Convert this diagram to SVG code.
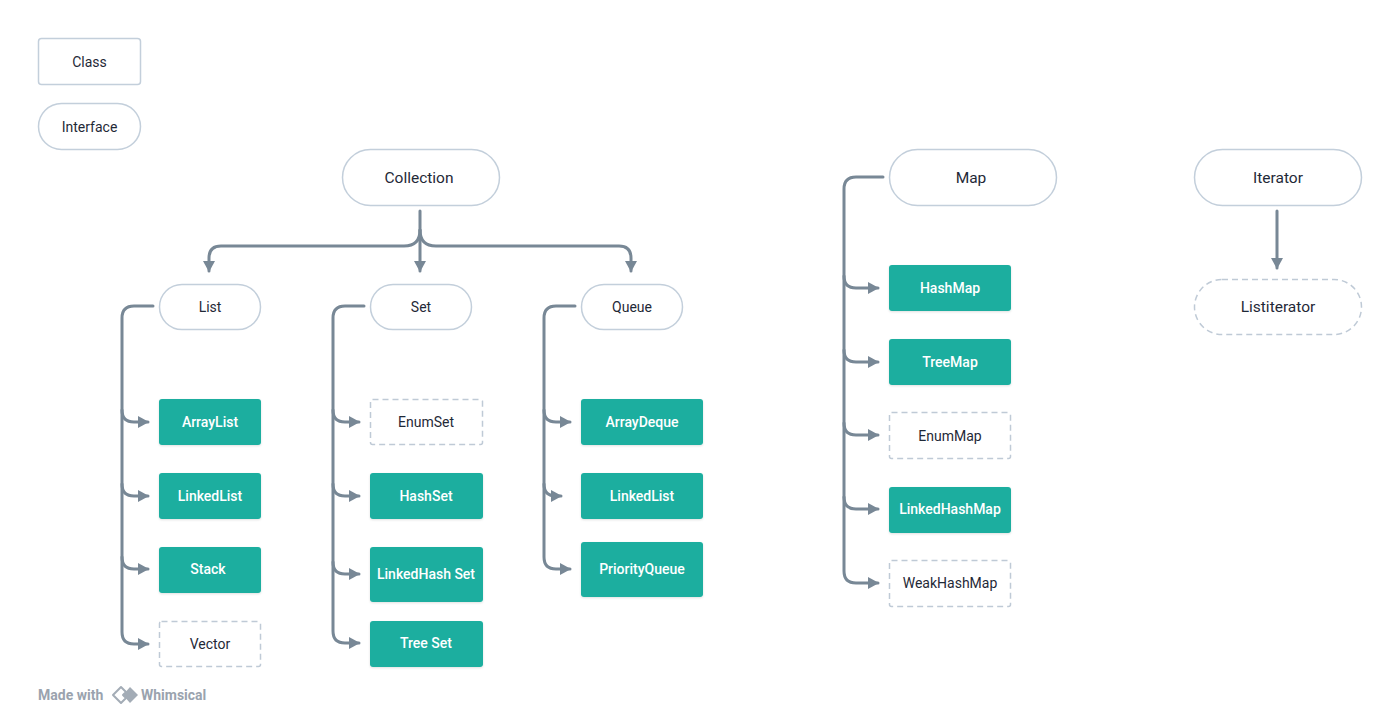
<svg xmlns="http://www.w3.org/2000/svg" width="1400" height="724" viewBox="0 0 1400 724">
<defs>
<style>
.bg{fill:#ffffff}
.pill{fill:#ffffff;stroke:#c3cfdb;stroke-width:1.5}
.cls{fill:#ffffff;stroke:#c3cfdb;stroke-width:1.5}
.dash{fill:#ffffff;stroke:#bfcad6;stroke-width:1.5;stroke-dasharray:6 4}
.teal{fill:#1aae9f}
.t{font-family:Roboto,"Noto Sans","Liberation Sans",sans-serif;font-size:14px;font-weight:400;fill:#1f2937;text-anchor:middle;dominant-baseline:central}
.tb{font-size:15.5px}
.tw{fill:#ffffff;font-weight:500}
.con{fill:none;stroke:#788896;stroke-width:3;stroke-linecap:round}
.wm{font-family:Roboto,"Noto Sans","Liberation Sans",sans-serif;font-size:14px;font-weight:700;fill:#9aa3ae}
</style>
<filter id="sh" x="-10%" y="-10%" width="120%" height="130%">
<feDropShadow dx="0" dy="1" stdDeviation="1" flood-color="#000" flood-opacity="0.12"/>
</filter>
<marker id="ah" markerUnits="userSpaceOnUse" markerWidth="14" markerHeight="14" viewBox="0 0 14 14" refX="11" refY="7" orient="auto">
<path d="M1,1 L12,7 L1,13 Z" fill="#788896"/>
</marker>
</defs>
<rect class="bg" x="0" y="0" width="1400" height="724"/>

<g id="legend-class"><rect class="cls" x="38.5" y="38.5" width="102" height="46" rx="3"/><text class="t" x="89.5" y="61.5">Class</text></g>
<g id="legend-interface"><rect class="pill" x="38.5" y="103.5" width="102" height="46" rx="23"/><text class="t" x="89.5" y="126.5">Interface</text></g>

<g id="connectors">
<path class="con" d="M420,211 V271" marker-end="url(#ah)"/>
<path class="con" d="M420,230 Q420,246 404,246 H221 Q209,246 209,258 V271" marker-end="url(#ah)"/>
<path class="con" d="M420,230 Q420,246 436,246 H619 Q631,246 631,258 V271" marker-end="url(#ah)"/>

<path class="con" d="M153,306 H134 Q122,306 122,318 V632 Q122,644 134,644 H148" marker-end="url(#ah)"/>
<path class="con" d="M122,410 Q122,422 134,422 H148" marker-end="url(#ah)"/>
<path class="con" d="M122,484 Q122,496 134,496 H148" marker-end="url(#ah)"/>
<path class="con" d="M122,557 Q122,569 134,569 H148" marker-end="url(#ah)"/>

<path class="con" d="M364,306 H345 Q333,306 333,318 V631 Q333,643 345,643 H359" marker-end="url(#ah)"/>
<path class="con" d="M333,410 Q333,422 345,422 H359" marker-end="url(#ah)"/>
<path class="con" d="M333,484 Q333,496 345,496 H359" marker-end="url(#ah)"/>
<path class="con" d="M333,562 Q333,574 345,574 H359" marker-end="url(#ah)"/>

<path class="con" d="M575,306 H556 Q544,306 544,318 V557 Q544,569 556,569 H570" marker-end="url(#ah)"/>
<path class="con" d="M544,410 Q544,422 556,422 H570" marker-end="url(#ah)"/>
<path class="con" d="M544,484 Q544,496 556,496 H561" marker-end="url(#ah)"/>

<path class="con" d="M883,177 H856 Q844,177 844,189 V571 Q844,583 856,583 H878" marker-end="url(#ah)"/>
<path class="con" d="M844,276 Q844,288 856,288 H878" marker-end="url(#ah)"/>
<path class="con" d="M844,350 Q844,362 856,362 H878" marker-end="url(#ah)"/>
<path class="con" d="M844,423 Q844,435 856,435 H878" marker-end="url(#ah)"/>
<path class="con" d="M844,497 Q844,509 856,509 H878" marker-end="url(#ah)"/>

<path class="con" d="M1277,211 V268" marker-end="url(#ah)"/>
</g>

<g id="collection"><rect class="pill" x="342.5" y="149.5" width="157" height="56" rx="28"/><text class="t tb" x="419" y="177.5">Collection</text></g>
<g id="list"><rect class="pill" x="159.5" y="284.5" width="101" height="45" rx="22.5"/><text class="t" x="210" y="306.5">List</text></g>
<g id="set"><rect class="pill" x="370.5" y="284.5" width="101" height="45" rx="22.5"/><text class="t" x="421" y="306.5">Set</text></g>
<g id="queue"><rect class="pill" x="581.5" y="284.5" width="101" height="45" rx="22.5"/><text class="t" x="632" y="306.5">Queue</text></g>

<g id="arraylist"><rect class="teal" filter="url(#sh)" x="159" y="399" width="102" height="46" rx="3"/><text class="t tw" x="210" y="422">ArrayList</text></g>
<g id="linkedlist"><rect class="teal" filter="url(#sh)" x="159" y="473" width="102" height="46" rx="3"/><text class="t tw" x="210" y="496">LinkedList</text></g>
<g id="stack"><rect class="teal" filter="url(#sh)" x="159" y="547" width="102" height="46" rx="3"/><text class="t tw" x="208" y="569">Stack</text></g>
<g id="vector"><rect class="dash" x="159.5" y="621.5" width="101" height="45" rx="2"/><text class="t" x="210" y="644">Vector</text></g>

<g id="enumset"><rect class="dash" x="370.5" y="399.5" width="112" height="45" rx="2"/><text class="t" x="426" y="422">EnumSet</text></g>
<g id="hashset"><rect class="teal" filter="url(#sh)" x="370" y="473" width="113" height="46" rx="3"/><text class="t tw" x="426" y="496">HashSet</text></g>
<g id="linkedhashset"><rect class="teal" filter="url(#sh)" x="370" y="547" width="113" height="55" rx="3"/><text class="t tw" x="426" y="574">LinkedHash Set</text></g>
<g id="treeset"><rect class="teal" filter="url(#sh)" x="370" y="621" width="113" height="46" rx="3"/><text class="t tw" x="426" y="643">Tree Set</text></g>

<g id="arraydeque"><rect class="teal" filter="url(#sh)" x="581" y="399" width="122" height="46" rx="3"/><text class="t tw" x="642" y="422">ArrayDeque</text></g>
<g id="linkedlist2"><rect class="teal" filter="url(#sh)" x="581" y="473" width="122" height="46" rx="3"/><text class="t tw" x="642" y="496">LinkedList</text></g>
<g id="priorityqueue"><rect class="teal" filter="url(#sh)" x="581" y="542" width="122" height="55" rx="3"/><text class="t tw" x="642" y="569">PriorityQueue</text></g>

<g id="map"><rect class="pill" x="889.5" y="149.5" width="167" height="56" rx="28"/><text class="t tb" x="971" y="177.5">Map</text></g>
<g id="hashmap"><rect class="teal" filter="url(#sh)" x="889" y="265" width="122" height="46" rx="3"/><text class="t tw" x="950" y="288">HashMap</text></g>
<g id="treemap"><rect class="teal" filter="url(#sh)" x="889" y="339" width="122" height="46" rx="3"/><text class="t tw" x="950" y="362">TreeMap</text></g>
<g id="enummap"><rect class="dash" x="889.5" y="412.5" width="121" height="46" rx="2"/><text class="t" x="950" y="436">EnumMap</text></g>
<g id="linkedhashmap"><rect class="teal" filter="url(#sh)" x="889" y="487" width="122" height="46" rx="3"/><text class="t tw" x="950" y="509">LinkedHashMap</text></g>
<g id="weakhashmap"><rect class="dash" x="889.5" y="560.5" width="121" height="46" rx="2"/><text class="t" x="950" y="583">WeakHashMap</text></g>

<g id="iterator"><rect class="pill" x="1194.5" y="149.5" width="167" height="56" rx="28"/><text class="t tb" x="1278" y="177.5">Iterator</text></g>
<g id="listiterator"><rect class="dash" x="1194.5" y="279.5" width="167" height="55" rx="27.5"/><text class="t tb" x="1278" y="306.5">Listiterator</text></g>

<g id="watermark">
<text class="wm" x="38" y="700">Made with</text>
<path d="M113,695 L121,687 L126,692 L123,695 L126,698 L121,703 Z" fill="none" stroke="#a3acb6" stroke-width="2" stroke-linejoin="round"/>
<path d="M123,695 L130,687 L138,695 L130,703 Z" fill="#a3acb6"/>
<text class="wm" x="141" y="700">Whimsical</text>
</g>
</svg>
